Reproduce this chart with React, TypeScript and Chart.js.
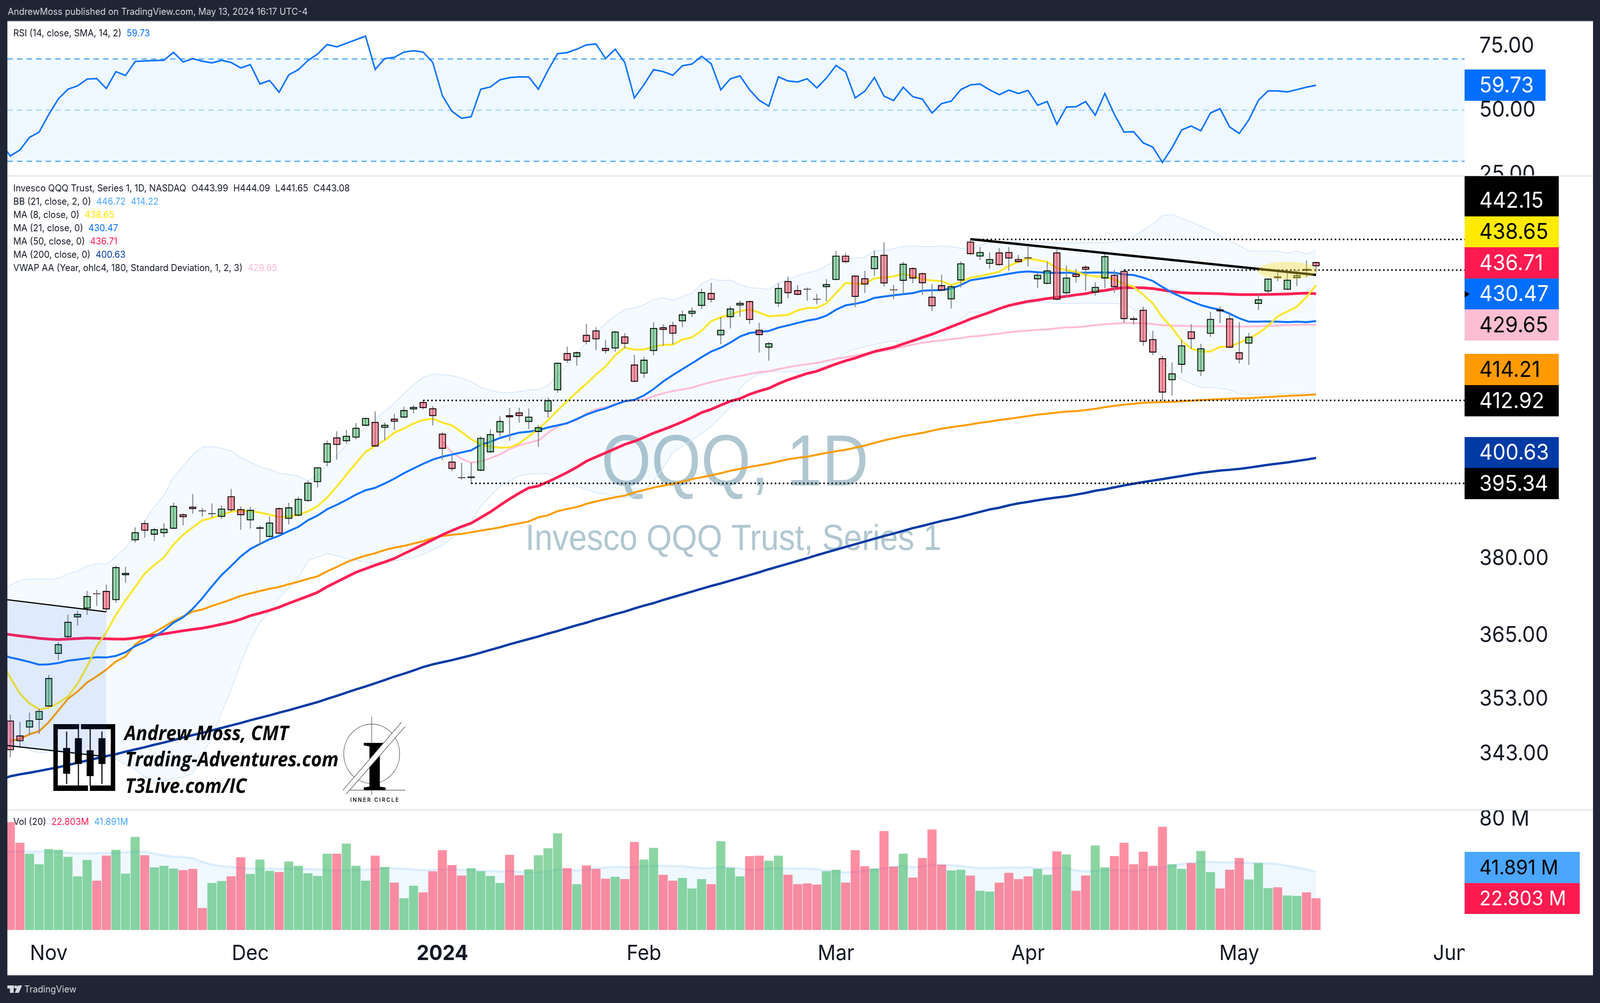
import React, { useEffect, useRef } from 'react';
import { Chart, registerables } from 'chart.js';

Chart.register(...registerables);

// first row is the bar just off the left edge, so the lines run into the frame
const opens = [352.0,349.03,346.3,347.8,349.2,351.65,361.5,364.7,368.5,370.2,373.1,373.6,371.85,376.75,383.7,387.15,384.85,385.15,386.05,388.95,390.5,389.7,389.0,388.45,392.65,390.0,387.75,386.0,384.4,390.2,388.05,388.7,391.7,395.6,399.7,404.95,404.2,404.95,407.5,408.25,407.05,408.95,409.25,411.0,412.55,411.2,405.75,399.85,396.55,396.45,398.0,401.85,406.05,409.7,410.3,408.3,406.17,410.53,415.16,423.3,422.45,427.35,428.35,424.4,424.35,427.0,420.75,418.8,423.8,429.05,429.55,430.45,432.15,433.95,436.85,427.3,431.4,434.05,435.0,428.5,424.55,434.5,439.6,437.5,437.75,435.45,438.25,439.9,445.5,440.85,440.25,442.4,445.7,437.6,439.7,442.6,441.4,436.0,438.65,435.45,439.8,448.8,445.35,443.65,446.25,446.35,444.7,445.0,440.05,439.0,446.25,436.85,441.3,442.9,437.0,440.25,441.05,441.95,431.1,433.0,426.4,422.15,417.35,420.75,428.15,419.3,427.65,433.1,431.05,423.45,425.45,434.4,437.25,440.65,437.65,440.3,442.4,443.99];
const highs = [353.0,350.08,348.8,350.5,351.2,357.5,363.7,369.0,369.7,373.6,373.8,374.85,378.5,378.35,386.3,387.7,386.2,387.1,391.3,389.15,393.1,390.25,391.15,390.75,394.15,390.55,390.45,386.6,388.5,390.3,391.3,392.55,395.85,398.7,404.3,406.25,406.55,408.0,409.2,410.5,408.15,410.0,411.55,411.9,412.92,411.65,406.1,401.05,399.6,399.6,405.2,406.65,409.5,411.25,411.3,411.15,407.55,413.5,421.2,424.75,423.65,429.8,429.05,426.25,428.25,427.75,422.9,422.4,430.2,429.7,430.3,432.8,433.55,437.85,439.15,431.3,433.8,435.1,435.1,430.05,425.7,439.05,440.6,438.65,438.1,436.65,440.05,446.6,446.05,440.95,441.95,446.7,448.6,438.7,444.05,442.75,441.55,438.9,441.05,438.65,444.15,449.34,447.5,446.25,447.25,447.5,445.65,447.55,441.4,444.0,446.9,443.15,442.4,443.25,439.3,445.9,442.25,442.15,431.5,433.75,428.25,422.7,421.2,426.3,429.75,425.35,432.55,433.8,432.55,430.2,427.8,436.5,440.25,441.75,441.65,442.15,444.35,444.09];
const lows = [349.5,342.42,344.1,346.4,346.65,351.6,360.3,364.5,366.95,369.0,370.7,369.65,371.35,375.25,383.25,384.25,383.55,384.35,386.0,386.75,389.1,388.55,388.35,388.05,389.5,385.85,386.1,382.7,384.3,384.95,386.95,388.55,391.55,394.5,398.9,400.3,403.65,404.6,407.4,403.0,404.45,406.55,409.15,410.15,411.0,407.55,400.25,397.9,396.1,395.34,397.9,401.75,405.2,404.3,408.15,406.8,403.0,409.25,414.6,421.13,420.55,425.3,423.95,423.2,423.65,424.4,416.9,417.9,422.85,425.0,425.3,429.15,431.45,433.2,434.75,425.3,428.85,431.5,429.85,423.45,421.65,433.75,435.7,436.35,435.1,434.35,435.0,439.85,443.85,433.65,436.9,440.85,438.4,435.5,436.6,439.15,436.45,432.75,437.3,433.35,438.15,445.75,444.55,442.5,443.25,442.0,443.95,443.05,438.0,438.9,435.25,435.85,439.3,437.45,436.3,438.0,436.95,430.15,429.75,424.95,422.85,412.92,413.95,418.95,424.3,418.25,426.95,430.05,424.5,421.05,420.7,433.0,436.6,439.65,437.6,438.5,440.5,441.65];
const closes = [350.5,343.68,345.3,349.07,350.8,356.9,363.3,367.6,369.1,372.6,373.0,370.05,378.3,377.15,385.3,385.65,385.9,386.0,390.65,388.4,390.05,389.6,389.1,390.1,389.8,388.8,389.85,386.3,387.25,385.05,390.35,392.1,395.45,398.65,403.7,403.4,405.3,407.0,409.1,403.1,407.65,408.35,410.8,411.5,411.3,409.55,402.6,398.35,396.45,396.75,404.85,405.65,408.45,409.3,409.55,409.4,407.13,412.93,421.13,421.7,423.45,425.85,426.4,423.8,428.1,425.4,417.0,421.8,428.9,428.5,427.65,431.95,432.8,437.05,435.35,428.5,433.3,434.6,430.75,427.35,425.5,438.0,436.85,436.5,437.65,435.35,438.9,445.5,444.05,436.0,438.85,445.35,439.1,437.5,443.6,440.25,439.15,433.85,437.45,438.4,443.7,445.9,446.35,444.7,443.35,444.9,444.05,444.9,441.05,442.05,435.35,440.4,440.6,442.25,438.25,445.35,438.25,430.95,430.75,425.85,423.45,414.65,418.8,425.0,426.45,424.35,430.95,432.7,424.55,421.9,426.95,435.4,440.15,440.3,439.9,440.95,442.05,443.08];

// millions of shares
const volumes = [60,77.67,62.76,54.88,47.28,58.25,57.69,52.63,38.56,50.38,35.46,53.47,57.69,40.53,66.98,53.75,45.03,46.15,44.18,43.06,43.9,15.76,33.77,35.18,38.56,52.35,40.24,50.66,42.5,41.65,49.25,46.15,40.81,38.84,54.88,54.88,62.2,46.15,35.46,53.47,45.31,34.05,22.8,31.8,27.02,42.21,57.41,46.72,39.12,44.47,42.21,38.84,33.77,54.03,39.4,43.62,53.75,58.82,69.51,44.47,32.93,46.44,43.9,36.87,38.27,36.59,63.32,50.66,59.1,39.68,35.46,37.43,29.83,36.59,32.93,63.88,44.75,38.56,53.19,53.47,49.81,53.47,39.68,32.93,33.49,32.65,42.21,43.34,34.05,57.41,45.87,44.18,71.2,45.59,54.88,37.71,51.78,72.33,47.0,42.78,43.34,39.12,28.14,27.58,34.05,41.09,36.59,38.56,43.9,39.68,56.57,54.32,28.14,39.12,60.79,45.03,53.19,62.76,47.28,56.29,46.15,74.3,47.28,43.9,48.12,56.85,41.65,29.83,43.34,51.78,36.3,48.12,30.11,30.68,24.77,24.48,27.02,22.803];
const volumeAverage = [56.5,56.57,56.75,56.57,56.57,56.38,56.38,55.63,55.16,55.16,55.35,55.44,55.63,56.1,56.57,56.38,55.16,53.75,52.81,52.63,51.69,49.06,47.19,46.06,45.5,44.84,44.37,44.37,44.37,43.9,44.37,44.37,43.9,43.71,43.15,42.87,43.15,43.43,43.62,43.9,44.56,44.65,44.18,43.71,43.15,43.43,43.62,43.62,43.43,43.06,42.68,42.5,42.21,42.5,42.03,41.37,41.37,42.31,43.62,43.25,42.96,43.62,44.56,45.12,45.5,45.31,45.31,46.06,46.53,46.25,46.06,45.97,45.12,44.56,44.56,45.5,45.12,44.37,43.43,43.62,44.37,44.56,44.37,44.18,44.37,43.9,42.96,42.31,41.37,42.03,42.5,43.62,44.37,45.78,46.25,45.31,46.25,47.19,47.0,46.72,46.25,45.31,44.65,44.56,44.84,45.12,44.93,45.31,44.37,44.56,44.65,44.84,42.96,42.31,42.68,43.43,43.25,42.96,42.78,43.43,43.71,44.84,46.25,47.65,48.4,49.25,49.06,48.87,48.87,48.59,48.4,48.12,48.12,47.65,46.25,45.12,43.71,41.891];

const ma8 = [360.35,357.0,354.0,352.2,351.1,351.4,352.3,353.5,355.85,359.1,362.95,365.6,368.95,371.8,374.4,377.05,378.75,380.25,382.85,384.8,386.3,387.75,388.2,388.9,389.5,389.65,389.65,389.3,388.9,388.4,388.5,388.9,389.55,390.65,392.4,394.65,397.1,399.55,401.9,403.15,404.4,406.0,406.9,407.95,408.7,409.0,408.15,407.55,406.1,404.6,403.6,403.0,402.8,402.85,403.7,405.2,406.77,408.65,410.75,412.75,414.7,416.55,418.55,420.33,422.85,424.55,424.1,424.1,424.75,425.1,425.2,426.3,426.8,428.35,430.45,431.35,431.95,432.7,433.15,432.4,431.55,431.7,431.9,432.9,433.45,433.5,434.5,436.85,439.2,439.0,439.0,440.25,440.45,440.7,441.3,440.75,440.0,439.75,439.6,438.7,439.4,440.4,440.75,441.25,441.75,443.15,444.05,444.85,444.5,444.05,442.65,442.15,441.75,441.05,440.7,440.65,439.9,438.95,438.3,436.5,434.5,431.3,429.0,426.05,424.3,423.65,423.65,424.7,424.75,425.6,426.55,427.75,429.4,431.55,432.6,433.75,435.95,438.65];
const ma21 = [361.4,360.8,360.4,359.95,359.45,359.5,359.75,360.2,360.4,360.65,360.85,360.8,361.1,361.8,362.95,363.75,364.75,365.95,367.45,368.5,370.15,372.2,374.55,376.75,378.55,380.45,381.95,382.95,383.9,384.6,385.55,386.4,387.75,388.7,390.0,390.9,391.9,393.0,393.9,394.4,395.3,396.3,397.45,398.45,399.4,400.3,400.9,401.35,401.8,402.25,403.4,404.05,404.85,405.45,406.0,406.2,406.5,407.1,407.55,408.0,408.9,409.85,410.6,411.2,412.0,412.75,413.05,414.0,415.4,417.05,418.45,419.75,421.05,422.4,423.65,424.5,425.65,427.0,427.8,428.05,428.25,429.0,429.5,430.05,430.6,430.95,431.7,433.05,434.05,434.4,434.9,435.75,436.05,436.35,436.6,436.85,437.4,437.5,437.55,437.9,438.7,439.8,440.15,440.5,440.9,441.3,441.65,441.85,441.65,441.55,441.5,441.55,441.55,441.55,441.6,441.6,441.55,441.15,441.0,440.4,439.65,438.25,436.95,435.95,434.95,434.1,433.5,433.05,432.15,431.1,430.35,430.35,430.4,430.35,430.25,430.35,430.25,430.47];
const ma50 = [365.4,365.15,364.9,364.7,364.45,364.3,364.2,364.3,364.4,364.5,364.45,364.35,364.3,364.3,364.5,364.8,365.05,365.3,365.6,365.9,366.15,366.4,366.75,367.15,367.55,368.1,368.8,369.3,369.85,370.45,371.2,371.9,372.6,373.35,374.45,375.4,376.35,377.3,378.0,378.7,379.35,380.05,381.0,381.9,382.85,383.8,384.8,385.65,386.45,387.15,388.3,389.45,390.8,392.1,393.3,394.4,394.8,395.65,396.6,397.6,398.7,399.95,400.85,401.7,402.6,403.5,404.15,405.0,405.9,406.65,407.45,408.3,409.25,410.3,411.0,411.9,412.75,413.3,414.25,414.95,415.55,416.55,417.4,418.1,418.8,419.3,420.1,420.9,421.6,422.2,422.95,423.65,424.15,424.6,425.35,426.05,426.8,427.5,428.35,429.2,430.05,430.95,431.7,432.45,433.3,434.0,434.5,434.95,435.25,435.6,435.85,436.1,436.45,436.7,437.2,437.45,437.85,438.1,438.1,438.05,437.9,437.55,437.2,436.95,436.85,436.8,436.75,436.7,436.6,436.5,436.5,436.5,436.55,436.6,436.65,436.75,436.85,436.71];
const ma200 = [338.4,338.99,339.34,339.62,339.94,340.27,340.6,341.0,341.4,341.8,342.2,342.6,342.95,343.4,343.8,344.2,344.65,345.05,345.5,345.95,346.4,346.8,347.25,347.7,348.15,348.6,349.1,349.55,350.0,350.5,350.95,351.45,351.95,352.45,353.05,353.6,354.2,354.8,355.35,355.95,356.55,357.2,357.75,358.35,359.0,359.5,359.9,360.3,360.75,361.2,361.7,362.25,362.75,363.3,363.8,364.3,364.8,365.35,365.85,366.4,366.95,367.45,368.05,368.55,369.1,369.6,370.2,370.75,371.25,371.85,372.4,372.95,373.5,374.05,374.6,375.1,375.65,376.2,376.75,377.3,377.9,378.45,379.0,379.55,380.1,380.7,381.25,381.8,382.35,382.9,383.45,384.0,384.55,385.05,385.6,386.15,386.6,387.1,387.6,388.0,388.45,388.95,389.45,389.95,390.3,390.8,391.2,391.5,391.85,392.15,392.4,392.65,393.0,393.35,393.8,394.1,394.5,394.9,395.25,395.6,395.9,396.2,396.55,396.85,397.2,397.5,397.75,398.0,398.15,398.35,398.6,398.9,399.2,399.45,399.7,400.0,400.3,400.63];

// orange line starts one bar in, VWAP starts on the first session of the year
const orangeStart = 1;
const orangeLine = [345.35,345.7,346.55,347.1,348.75,350.9,353.05,354.4,356.1,357.25,358.5,360.05,361.0,363.25,364.6,365.6,366.65,367.8,368.65,369.6,370.0,370.7,371.3,371.95,372.65,373.15,373.6,374.05,374.4,374.95,375.45,376.0,376.5,377.5,378.35,379.3,380.0,380.6,381.1,381.75,382.2,382.55,383.05,383.5,384.15,384.55,384.8,385.0,385.3,385.65,385.95,386.3,386.75,387.1,387.5,388.35,388.75,389.6,390.05,390.45,391.1,391.6,392.05,392.45,392.8,393.45,393.95,394.45,394.85,395.25,395.7,396.2,396.6,397.0,397.45,397.95,398.35,398.75,399.1,399.45,399.9,400.35,400.65,400.9,401.3,401.7,402.05,402.35,402.8,403.25,403.8,404.35,404.8,405.25,405.6,405.95,406.4,406.85,407.15,407.45,407.75,408.1,408.35,408.7,408.95,409.25,409.55,409.85,410.05,410.3,410.5,410.6,410.85,411.1,411.45,411.75,412.0,412.2,412.4,412.5,412.55,412.6,412.75,412.85,413.0,413.1,413.2,413.3,413.35,413.4,413.55,413.65,413.8,413.9,414.0,414.1,414.21];
const vwapStart = 46;
const vwap = [404.05,401.8,400.45,399.65,399.9,400.6,401.35,402.5,403.3,403.85,404.35,405.95,407.3,408.15,408.7,410.05,411.0,411.45,412.15,412.7,412.95,413.05,413.85,414.45,414.95,415.3,415.7,416.35,416.9,417.4,417.85,418.25,418.7,419.1,419.3,419.75,420.2,420.55,420.85,421.15,421.55,422.05,422.4,422.7,423.1,423.55,423.8,424.25,424.75,425.2,425.6,425.9,426.15,426.4,426.65,427.0,427.15,427.4,427.65,427.95,428.2,428.35,428.5,428.6,428.85,429.05,429.1,429.3,429.55,429.75,429.9,430.05,430.05,430.0,429.8,429.55,429.45,429.4,429.35,429.3,429.3,429.3,429.25,429.25,429.25,429.3,429.4,429.5,429.55,429.6,429.7,429.65];

const bbUpper = [373.5,374.75,375.7,375.95,375.95,375.95,376.1,377.0,377.5,378.55,379.05,378.85,380.45,382.2,384.35,387.6,390.45,392.85,396.65,398.9,401.35,402.95,403.05,402.7,402.1,400.7,399.7,398.8,398.2,397.4,397.15,396.85,395.85,397.1,399.33,401.15,403.4,405.2,407.05,408.9,410.5,412.35,414.4,416.3,417.95,418.65,418.55,418.3,417.8,417.0,415.8,415.1,414.65,414.6,414.8,415.2,415.25,416.1,418.45,420.55,423.2,425.55,428.0,429.9,431.7,433.05,433.5,434.15,435.4,435.75,435.25,436.0,436.85,438.95,440.1,439.75,439.85,438.8,438.1,437.95,437.7,439.2,439.95,440.9,441.55,442.0,443.15,444.4,444.8,444.9,445.15,446.65,446.75,447.15,447.65,447.75,447.65,447.65,447.75,447.65,447.25,447.05,448.05,448.45,448.65,448.75,448.75,448.75,448.65,448.6,448.55,448.55,448.5,448.55,448.55,448.55,448.75,449.05,450.05,451.45,452.95,455.0,455.25,454.35,453.45,452.45,451.45,450.15,448.9,447.9,446.65,446.65,446.65,446.55,446.15,446.55,445.9,446.72];
const bbLower = [349.4,346.95,345.45,343.65,343.15,343.4,343.65,343.4,343.2,342.75,342.5,342.3,342.05,341.15,340.25,338.9,338.3,338.1,338.65,338.85,339.55,342.7,346.0,350.5,354.85,359.75,364.15,367.45,369.95,372.3,374.2,376.1,379.6,380.3,381.0,380.6,380.05,379.7,379.3,379.3,379.45,379.6,379.85,380.3,380.85,381.8,382.65,384.15,385.75,387.4,390.65,392.75,394.7,395.8,396.95,397.25,397.35,397.4,396.3,395.35,394.75,394.05,393.4,393.1,392.7,392.35,392.75,393.85,395.75,398.55,401.7,403.1,404.5,405.85,407.35,409.45,411.4,415.6,417.5,418.7,419.2,419.2,419.2,419.2,419.55,419.9,420.35,422.0,423.45,424.25,424.75,425.2,425.65,426.0,425.8,425.65,426.35,426.75,427.3,428.8,430.9,432.55,432.45,432.9,433.25,433.8,434.25,434.5,434.8,434.7,434.5,434.45,434.5,434.6,434.55,434.5,434.45,434.35,433.3,430.4,426.05,421.8,418.95,417.5,416.55,415.75,415.75,415.55,415.25,414.35,414.15,414.2,414.25,414.35,414.5,414.4,414.6,414.22];

const rsi = [37.07,32.09,34.43,39.36,41.4,48.27,54.38,58.19,59.47,62.16,62.32,58.45,65.06,63.54,69.03,69.24,69.39,69.49,72.6,68.83,70.15,69.13,68.47,69.49,68.63,66.49,67.81,60.23,61.6,57.02,63.79,65.83,69.39,71.93,75.65,74.73,76.11,77.53,78.91,65.93,70.15,70.66,72.7,73.21,72.7,68.63,55.65,49.54,46.84,47.4,58.19,59.06,61.86,62.72,63.03,62.93,58.19,65.57,72.09,72.49,73.82,75.5,75.85,70.15,73.82,68.63,54.78,59.97,65.83,65.06,63.64,67.35,68.02,71.07,68.12,57.94,62.26,63.38,57.94,53.87,51.58,63.03,61.4,60.99,62.26,58.7,62.52,67.46,64.96,54.78,57.43,62.77,55.5,53.72,58.96,55.29,54.27,48.88,52.6,53.51,58.04,59.87,60.23,57.94,56.01,57.84,56.51,57.68,51.93,53.36,44.45,51.22,51.32,53.36,48.02,56.51,48.27,41.4,41.55,37.18,35.55,29.54,35.29,42.26,43.79,41.91,48.88,50.56,43.44,40.89,46.23,53.87,57.53,57.53,57.12,58.04,58.96,59.73];
const rsiBands = [70, 50, 30];

// drawings: [bar, price]
const trendTop = [[101, 449.4], [137, 441.05]];
const channelHigh = [[0.69, 371.9], [11, 369.55]];
const channelLow = [[0.69, 344.5], [11, 342.5]];
const levels = [[101, 449.34], [117, 442.15], [44, 412.92], [49, 395.34]];
const highlight = { bar: 134, priceTop: 444.1, priceBottom: 440.0, barRadius: 3.05 };

const priceTicks = [343, 353, 365, 380];
const rsiTicks = [25, 50, 75];
const volumeTicks = [80];
const monthBars = [5, 26, 46, 67, 87, 107, 129, 151];
const monthNames = ['Nov', 'Dec', '2024', 'Feb', 'Mar', 'Apr', 'May', 'Jun'];

const priceTags = ['449.34', '442.15', '438.65', '436.71', '430.47', '429.65', '414.21', '412.92', '400.63', '395.34'];
const legendRows = [
  [['Invesco QQQ Trust, Series 1, 1D, NASDAQ', '#131722'], ['O443.99', '#131722'], ['H444.09', '#131722'], ['L441.65', '#131722'], ['C443.08', '#131722']],
  [['BB (21, close, 2, 0)', '#131722'], ['446.72', '#4aa6ff'], ['414.22', '#4aa6ff']],
  [['MA (8, close, 0)', '#131722'], ['438.65', '#ffe600']],
  [['MA (21, close, 0)', '#131722'], ['430.47', '#006eff']],
  [['MA (50, close, 0)', '#131722'], ['436.71', '#ff1a4f']],
  [['MA (200, close, 0)', '#131722'], ['400.63', '#003aa5']],
  [['VWAP AA (Year, ohlc4, 180, Standard Deviation, 1, 2, 3)', '#131722'], ['429.65', '#fdbdd3']],
];

const W = 4348;
const H = 2568;
const FRAME = '#1f2534';
const LEFT = 20;
const RIGHT = 4329;
const TOP = 54;
const BOTTOM = 2497;
const AXIS_LEFT = 3980;
const PANE_1 = 450;
const PANE_2 = 2073;
const VOL_BASE = 2381;
const SANS = 'Inter, "Liberation Sans", sans-serif';
const tickFont = { family: SANS, size: 56 };

const series = (values, start = 0) => values.map((y, i) => ({ x: i + start, y }));
const bars = opens.map((_, i) => i);
const xMin = 0.693;
const xMax = 152.47;

const lineBase = { type: 'line', pointRadius: 0, tension: 0, clip: 0, fill: false };

function writeRow(ctx, row, x, y) {
  let cursor = x;
  row.forEach(([text, color]) => {
    ctx.fillStyle = color;
    ctx.fillText(text, cursor, y);
    cursor += ctx.measureText(text).width + 14;
  });
}

function drawLogos(ctx) {
  ctx.save();
  ctx.fillStyle = '#000';
  // candle logo box
  ctx.fillRect(145, 1854, 12, 171);
  ctx.fillRect(301, 1854, 12, 171);
  ctx.fillRect(145, 1854, 70, 13);
  ctx.fillRect(220, 1854, 93, 13);
  ctx.fillRect(145, 2011, 94, 14);
  ctx.fillRect(244, 2011, 69, 14);
  [[181, 1873, 2007, 1915, 1981], [213, 1867, 2011, 1890, 1956], [245, 1867, 2011, 1921, 1987], [277, 1873, 2007, 1890, 1956]].forEach(([x, a, b, c, d]) => {
    ctx.fillRect(x - 1.5, a, 3, b - a);
    ctx.fillRect(x - 9.5, c, 19, d - c);
  });

  ctx.font = 'italic bold 52px "Open Sans"';
  ctx.textBaseline = 'alphabetic';
  ctx.textAlign = 'left';
  ctx.fillText('Andrew Moss, CMT', 338, 1895, 446);
  ctx.fillText('Trading-Adventures.com', 340, 1962, 580);
  ctx.fillText('T3Live.com/IC', 340, 2030, 330);

  // inner circle mark
  ctx.strokeStyle = '#555';
  ctx.lineWidth = 1.5;
  ctx.beginPath();
  ctx.ellipse(1010, 1930, 76, 76, 0, 0, Math.PI * 2);
  ctx.stroke();
  ctx.beginPath();
  ctx.moveTo(1010, 1835);
  ctx.lineTo(1010, 2035);
  ctx.moveTo(932, 2023);
  ctx.lineTo(1101, 2023);
  ctx.stroke();
  ctx.fillStyle = '#000';
  ctx.font = 'bold 184px "Liberation Serif"';
  ctx.textAlign = 'center';
  ctx.fillText('I', 1018, 2023);
  ctx.fillStyle = '#fff';
  ctx.beginPath();
  ctx.moveTo(932, 2023);
  ctx.lineTo(1091, 1849);
  ctx.lineTo(1101, 1860);
  ctx.lineTo(941, 2033);
  ctx.closePath();
  ctx.fill();
  ctx.beginPath();
  ctx.moveTo(932, 2023);
  ctx.lineTo(1091, 1849);
  ctx.moveTo(941, 2033);
  ctx.lineTo(1101, 1860);
  ctx.stroke();
  ctx.fillStyle = '#111';
  ctx.font = '600 14px ' + SANS;
  ctx.letterSpacing = '3.2px';
  ctx.fillText('INNER CIRCLE', 1019, 2053);
  ctx.restore();
}

const tvChrome = {
  id: 'tvChrome',
  beforeDraw(chart) {
    const ctx = chart.ctx;
    ctx.save();
    ctx.fillStyle = FRAME;
    ctx.fillRect(0, 0, W, H);
    ctx.fillStyle = '#fff';
    ctx.fillRect(LEFT, TOP, RIGHT - LEFT, BOTTOM - TOP);
    ctx.fillStyle = '#8a8d96';
    ctx.fillRect(LEFT, TOP - 1, RIGHT - LEFT, 2);
    ctx.fillRect(LEFT, BOTTOM - 1, RIGHT - LEFT, 2);
    ctx.restore();
  },
  beforeDatasetsDraw(chart) {
    const ctx = chart.ctx;
    ctx.save();
    ctx.fillStyle = '#b0c7d0';
    ctx.textBaseline = 'alphabetic';
    ctx.textAlign = 'left';
    ctx.font = '186px "Liberation Sans"';
    ctx.fillText('QQQ, 1D', 1634, 1243, 726);
    ctx.font = '92px "Liberation Sans"';
    ctx.fillText('Invesco QQQ Trust, Series 1', 1428, 1408, 1130);
    ctx.restore();
  },
  beforeDatasetDraw(chart, args) {
    if (chart.data.datasets[args.index].label === 'channel low') drawLogos(chart.ctx);
  },
  afterDatasetsDraw(chart) {
    const ctx = chart.ctx;
    const x = chart.scales.x;
    const y = chart.scales.y;
    const cx = x.getPixelForValue(highlight.bar);
    const top = y.getPixelForValue(highlight.priceTop);
    const bottom = y.getPixelForValue(highlight.priceBottom);
    const rx = x.getPixelForValue(highlight.bar + highlight.barRadius) - cx;
    ctx.save();
    ctx.beginPath();
    ctx.ellipse(cx, (top + bottom) / 2, rx, (bottom - top) / 2, 0, 0, Math.PI * 2);
    ctx.fillStyle = 'rgba(250, 225, 40, 0.36)';
    ctx.fill();
    ctx.restore();
  },
  afterDraw(chart) {
    const ctx = chart.ctx;
    ctx.save();
    // time axis is cut off where the price axis begins
    ctx.fillStyle = '#fff';
    ctx.fillRect(AXIS_LEFT, VOL_BASE, RIGHT - AXIS_LEFT, BOTTOM - VOL_BASE - 1);

    // pane separators
    ctx.fillStyle = '#e0e3eb';
    ctx.fillRect(LEFT, PANE_1 - 1, RIGHT - LEFT, 3);
    ctx.fillRect(LEFT, PANE_2 - 1, RIGHT - LEFT, 3);

    // header and footer
    ctx.textBaseline = 'middle';
    ctx.textAlign = 'left';
    ctx.fillStyle = '#d6d9e0';
    ctx.font = '24px ' + SANS;
    ctx.fillText('AndrewMoss published on TradingView.com, May 13, 2024 16:17 UTC-4', 21, 31);
    ctx.fillText('TradingView', 66, 2534);
    ctx.fillRect(20, 2523, 18, 8);
    ctx.fillRect(27, 2523, 10, 19);
    ctx.beginPath();
    ctx.arc(43, 2527, 4, 0, Math.PI * 2);
    ctx.fill();
    ctx.beginPath();
    ctx.moveTo(49, 2523);
    ctx.lineTo(60, 2523);
    ctx.lineTo(51, 2542);
    ctx.lineTo(40, 2542);
    ctx.closePath();
    ctx.fill();

    // pane legends
    writeRow(ctx, [['RSI (14, close, SMA, 14, 2)', '#131722'], ['59.73', '#006eff']], 36, 86);
    legendRows.forEach((row, i) => writeRow(ctx, row, 36, 483 + i * 34));
    writeRow(ctx, [['Vol (20)', '#131722'], ['22.803M', '#ff1a4f'], ['41.891M', '#4aa6ff']], 36, 2105);

    // value tags on the right axes
    const tag = (text, top, bottom, width, bg, fg, textX = 4020) => {
      ctx.fillStyle = bg;
      ctx.fillRect(AXIS_LEFT, top, width, bottom - top);
      ctx.fillStyle = fg;
      ctx.fillText(text, textX, (top + bottom) / 2 + 2);
    };
    ctx.font = '56px ' + SANS;
    tag('59.73', 178, 258, 220, '#006eff', '#fff');

    ctx.save();
    ctx.beginPath();
    ctx.rect(AXIS_LEFT, PANE_1 + 1, RIGHT - AXIS_LEFT, BOTTOM - PANE_1);
    ctx.clip();
    const tagRows = [
      [392, 473, '#000', '#fff'], [473, 554, '#000', '#fff'], [554, 633, '#ffea00', '#000'], [633, 713, '#ff1a4f', '#fff'],
      [713, 792, '#006eff', '#fff'], [792, 872, '#fdbdd3', '#000'], [906, 986, '#ff9b00', '#000'], [986, 1066, '#000', '#fff'],
      [1119, 1198, '#003aa5', '#fff'], [1198, 1278, '#000', '#fff'],
    ];
    tagRows.forEach(([top, bottom, bg, fg], i) => tag(priceTags[i], top, bottom, 256, bg, fg));
    ctx.restore();

    ctx.fillStyle = '#000';
    ctx.beginPath();
    ctx.moveTo(AXIS_LEFT, 745);
    ctx.lineTo(AXIS_LEFT + 14, 753);
    ctx.lineTo(AXIS_LEFT, 762);
    ctx.closePath();
    ctx.fill();

    ctx.font = '52px ' + SANS;
    tag('41.891 M', 2181, 2261, 313, '#4aa6ff', '#000');
    tag('22.803 M', 2261, 2340, 313, '#ff1a4f', '#fff');
    ctx.restore();
  },
};

const paneAxis = (stack, weight, stackWeight, min, max, ticks, format, type = 'linear') => ({
  type,
  position: 'right',
  stack,
  weight,
  stackWeight,
  min,
  max,
  grid: { display: false, drawTicks: false },
  border: { display: false },
  ticks: { autoSkip: false, padding: 40, color: '#131722', font: tickFont, callback: format },
  afterBuildTicks: (scale) => {
    scale.ticks = ticks.map((value) => ({ value }));
  },
  afterFit: (scale) => {
    scale.width = RIGHT - AXIS_LEFT;
    scale.paddingTop = 0;
    scale.paddingBottom = 0;
  },
});

export default function App() {
  const canvasRef = useRef(null);
  // the browser window can be narrower than the drawing, so squeeze it to fit
  const fitX = Math.min(1, window.innerWidth / W);

  useEffect(() => {
    document.body.style.margin = '0';
    document.body.style.background = FRAME;

    const candleUp = bars.map((i) => closes[i] >= opens[i]);

    const chart = new Chart(canvasRef.current, {
      type: 'bar',
      data: {
        datasets: [
          // rsi pane
          { ...lineBase, label: 'rsi 70', yAxisID: 'yRsi', order: 95, data: [{ x: xMin, y: rsiBands[0] }, { x: xMax, y: rsiBands[0] }], borderColor: '#4aa6ff', borderWidth: 3, borderDash: [15, 11], fill: '+1', backgroundColor: 'rgba(33, 150, 243, 0.07)' },
          { ...lineBase, label: 'rsi 30', yAxisID: 'yRsi', order: 94, data: [{ x: xMin, y: rsiBands[2] }, { x: xMax, y: rsiBands[2] }], borderColor: '#4aa6ff', borderWidth: 3, borderDash: [15, 11] },
          { ...lineBase, label: 'rsi 50', yAxisID: 'yRsi', order: 93, data: [{ x: xMin, y: rsiBands[1] }, { x: xMax, y: rsiBands[1] }], borderColor: '#a6d2ff', borderWidth: 3, borderDash: [15, 11] },
          { ...lineBase, label: 'rsi', yAxisID: 'yRsi', order: 92, data: series(rsi), borderColor: '#0a73ff', borderWidth: 4 },

          // price pane, bottom layer up
          { ...lineBase, label: 'bb upper', yAxisID: 'y', order: 90, data: series(bbUpper), borderColor: '#d3e6fc', borderWidth: 2, fill: '+1', backgroundColor: 'rgba(33, 150, 243, 0.045)' },
          { ...lineBase, label: 'bb lower', yAxisID: 'y', order: 89, data: series(bbLower), borderColor: '#d3e6fc', borderWidth: 2 },
          { ...lineBase, label: 'vwap', yAxisID: 'y', order: 60, data: series(vwap, vwapStart), borderColor: '#ffbfd6', borderWidth: 5 },
          { ...lineBase, label: 'orange', yAxisID: 'y', order: 59, data: series(orangeLine, orangeStart), borderColor: '#ff9d00', borderWidth: 5 },
          { ...lineBase, label: 'ma200', yAxisID: 'y', order: 58, data: series(ma200), borderColor: '#003aa5', borderWidth: 6 },
          { ...lineBase, label: 'ma50', yAxisID: 'y', order: 57, data: series(ma50), borderColor: '#ff1f55', borderWidth: 7 },
          { ...lineBase, label: 'ma21', yAxisID: 'y', order: 56, data: series(ma21), borderColor: '#0a73ff', borderWidth: 5 },
          { ...lineBase, label: 'ma8', yAxisID: 'y', order: 55, data: series(ma8), borderColor: '#fbe62a', borderWidth: 5 },

          {
            type: 'bar', label: 'wicks', yAxisID: 'y', order: 40, clip: 0, grouped: false, barThickness: 2,
            data: bars.map((i) => ({ x: i, y: [lows[i], highs[i]] })), backgroundColor: '#7f848e', borderWidth: 0,
          },
          {
            type: 'bar', label: 'bodies', yAxisID: 'y', order: 39, clip: 0, grouped: false, barThickness: 19, minBarLength: 2,
            data: bars.map((i) => ({ x: i, y: [opens[i], closes[i]] })),
            backgroundColor: candleUp.map((up) => (up ? 'rgba(62, 180, 95, 0.5)' : 'rgba(255, 60, 85, 0.5)')),
            borderColor: '#000', borderWidth: 2, borderSkipped: false,
          },

          // drawings
          { ...lineBase, label: 'channel low', yAxisID: 'y', order: 30, data: channelLow.map(([x, y]) => ({ x, y })), borderColor: '#000', borderWidth: 3 },
          { ...lineBase, label: 'channel high', yAxisID: 'y', order: 29, data: channelHigh.map(([x, y]) => ({ x, y })), borderColor: '#000', borderWidth: 3, fill: '-1', backgroundColor: 'rgba(33, 100, 243, 0.1)' },
          { ...lineBase, label: 'trend', yAxisID: 'y', order: 20, data: trendTop.map(([x, y]) => ({ x, y })), borderColor: '#000', borderWidth: 6 },
          ...levels.map(([x, y], i) => ({
            ...lineBase, label: 'level ' + i, yAxisID: 'y', order: 10, data: [{ x, y }, { x: xMax, y }], borderColor: '#000', borderWidth: 4, borderDash: [4, 7],
          })),

          // volume pane
          { ...lineBase, label: 'vol ma', yAxisID: 'yVol', order: 80, data: series(volumeAverage), borderColor: 'rgba(33, 150, 243, 0.12)', borderWidth: 6, fill: 'origin', backgroundColor: 'rgba(33, 150, 243, 0.07)' },
          {
            type: 'bar', label: 'volume', yAxisID: 'yVol', order: 70, clip: 0, grouped: false, barThickness: 24,
            data: bars.map((i) => ({ x: i, y: volumes[i] })),
            backgroundColor: candleUp.map((up) => (up ? 'rgba(50, 180, 90, 0.56)' : 'rgba(255, 30, 70, 0.5)')),
            borderWidth: 0,
          },
        ],
      },
      plugins: [tvChrome],
      options: {
        animation: false,
        responsive: false,
        devicePixelRatio: 1,
        events: [],
        layout: { padding: { left: LEFT, top: TOP, right: W - RIGHT, bottom: H - BOTTOM } },
        plugins: { legend: { display: false }, tooltip: { enabled: false } },
        scales: {
          x: {
            type: 'linear',
            min: xMin,
            max: xMax,
            offset: false,
            grid: { display: false, drawTicks: false, offset: false },
            border: { display: false },
            ticks: {
              autoSkip: false,
              maxRotation: 0,
              minRotation: 0,
              padding: 28,
              color: '#131722',
              font: (ctx) => ({ family: SANS, size: 54, weight: monthNames[ctx.index] === '2024' ? 'bold' : 'normal' }),
              callback: (value) => monthNames[monthBars.indexOf(value)],
            },
            afterBuildTicks: (scale) => {
              scale.ticks = monthBars.map((value) => ({ value }));
            },
            afterFit: (scale) => {
              scale.height = BOTTOM - VOL_BASE;
              scale.paddingLeft = 0;
              scale.paddingRight = 0;
            },
          },
          yRsi: paneAxis('panes', 1, PANE_1 - TOP, 24.35, 84.81, rsiTicks, (v) => Number(v).toFixed(2)),
          y: paneAxis('panes', 2, PANE_2 - PANE_1, 333.1, 464.6, priceTicks, (v) => Number(v).toFixed(2), 'logarithmic'),
          yVol: paneAxis('panes', 3, VOL_BASE - PANE_2, 0, 86.7, volumeTicks, (v) => v + ' M'),
        },
      },
    });

    return () => {
      chart.destroy();
    };
  }, []);

  return (
    <div style={{ position: 'fixed', left: 0, top: 0, width: W, height: H, overflow: 'hidden', transform: `scaleX(${fitX})`, transformOrigin: '0 0' }}>
      <canvas ref={canvasRef} width={W} height={H} style={{ display: 'block' }} />
    </div>
  );
}
